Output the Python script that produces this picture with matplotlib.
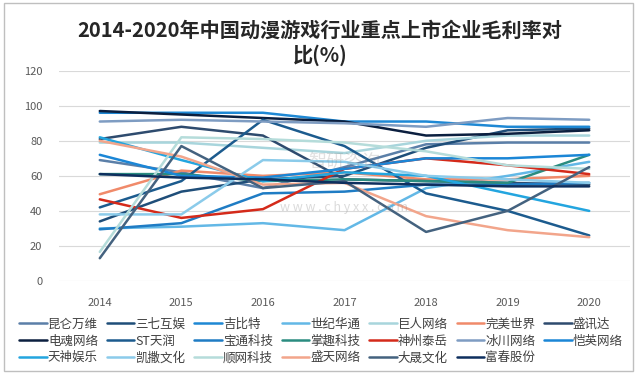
import matplotlib
matplotlib.use('Agg')
import matplotlib.pyplot as plt
from matplotlib.patches import Rectangle

plt.rcParams['font.family'] = ['Noto Sans CJK SC', 'DejaVu Sans']

years = ['2014', '2015', '2016', '2017', '2018', '2019', '2020']

companies = ['昆仑万维', '三七互娱', '吉比特', '世纪华通', '巨人网络', '完美世界', '盛讯达',
             '电魂网络', 'ST天润', '宝通科技', '掌趣科技', '神州泰岳', '冰川网络', '恺英网络',
             '天神娱乐', '凯撒文化', '顺网科技', '盛天网络', '大晟文化', '富春股份']

kunlun = [69, 62, 53, 65, 78, 79, 79]
sanqi = [34, 51, 58, 60, 76, 86, 87]
jibite = [96, 96, 96, 91, 91, 88, 88]
shiji = [30, 31, 33, 29, 53, 60, 68]
juren = [79, 79, 76, 73, 80, 83, 83]
wanmei = [49.5, 63, 60, 62, 58, 58, 60]
shengxunda = [81, 88, 83, 58, 57, 56, 55]
dianhun = [97, 95, 93, 91, 83, 84, 86]
tianrun = [42, 57, 92, 77, 50, 40, 26]
baotong = [29.5, 33, 50, 51, 55, 55, 56]
zhangqu = [61, 61, 57, 58, 57, 56, 72]
shenzhou = [46.6, 36, 41, 64, 70, 66, 61]
bingchuan = [91, 92, 91, 90, 88, 93, 92]
kaiying = [72, 60, 59, 64, 70, 70, 72]
tianshen = [82, 69, 57, 62, 60, 50, 40]
kaisa = [38, 38, 69, 68, 60, 58, 56]
shunwang = [16.6, 82, 81, 79, 74, 66, 64]
shengtian = [80, 71, 55, 56, 37, 29, 25]
dasheng = [13, 77, 53, 57, 28, 40, 65]
fuchun = [61, 59, 58, 56, 55, 54, 54]

series = [kunlun, sanqi, jibite, shiji, juren, wanmei, shengxunda, dianhun, tianrun, baotong,
          zhangqu, shenzhou, bingchuan, kaiying, tianshen, kaisa, shunwang, shengtian, dasheng, fuchun]

colors = ['#5B7FA8', '#1F4E79', '#1E88D4', '#63B8E6', '#A8D5DC', '#F08A6A', '#2E4B6E',
          '#0B1F3F', '#1C5B8E', '#1F7CC4', '#2A8C80', '#D42A1A', '#7E9CC2', '#1B86D6',
          '#23A5DF', '#8BCBEA', '#B5DCDA', '#F2A58B', '#44627F', '#0E2F5E']

fig = plt.figure(figsize=(6.4, 3.77), dpi=100)
ax = fig.add_axes([59 / 640, 1 - 281 / 377, (630 - 59) / 640, (281 - 70.7) / 377])

x = list(range(len(years)))
lines = []
for name, vals, c in zip(companies, series, colors):
    ln, = ax.plot(x, vals, color=c, lw=1.8, label=name, solid_capstyle='round')
    lines.append(ln)

ax.set_xlim(-0.5, 6.5)
ax.set_ylim(0, 120)
ax.set_yticks(range(0, 121, 20))
ax.set_xticks(x)
ax.set_xticklabels(years)
ax.tick_params(length=0, labelsize=8, colors='#595959')
ax.tick_params(axis='x', pad=12)
ax.tick_params(axis='y', pad=12)
ax.grid(axis='y', color='#D9D9D9', lw=0.8)
ax.set_axisbelow(True)
for s in ax.spines.values():
    s.set_visible(False)

# watermark
ax.text(3.0, 68, '智研咨询', fontsize=13, color='#888888', alpha=0.25, ha='center', va='center')
ax.text(3.0, 42, 'w w w . c h y x x . c o m', fontsize=9, color='#888888', alpha=0.3, ha='center', va='center')

# title, two lines placed separately
fig.text(0.5, 1 - 30 / 377, '2014-2020年中国动漫游戏行业重点上市企业毛利率对', ha='center', va='center',
         fontsize=14.5, fontweight='bold', color='#262626')
fig.text(0.5, 1 - 55 / 377, '比(%)', ha='center', va='center',
         fontsize=14.5, fontweight='bold', color='#262626')

# legend is row-major in the reference, matplotlib fills columns first
ncol, nrow = 7, 3
order = [r * ncol + c for c in range(ncol) for r in range(nrow) if r * ncol + c < len(lines)]
leg = fig.legend([lines[i] for i in order], [companies[i] for i in order], ncol=ncol,
                 loc='center', bbox_to_anchor=(321 / 640, 1 - 341 / 377), frameon=False,
                 fontsize=9, handlelength=2.2, handletextpad=0.1, columnspacing=0.7,
                 labelspacing=0.3, borderpad=0, borderaxespad=0)
for t in leg.get_texts():
    t.set_color('#404040')

fig.patches.append(Rectangle((4 / 640, 1 - 371 / 377), 629 / 640, 368 / 377, transform=fig.transFigure,
                             fill=False, edgecolor='#BFBFBF', lw=1))

fig.savefig('out.png', dpi=100)
